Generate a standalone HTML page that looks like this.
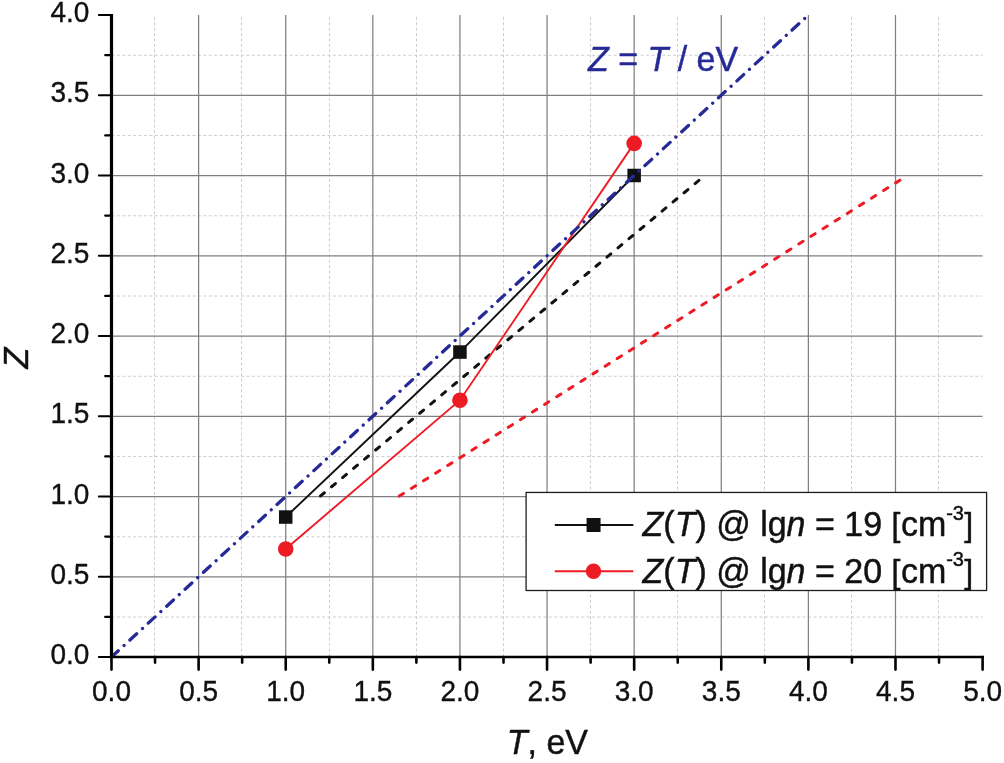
<!DOCTYPE html>
<html lang="en"><head><meta charset="utf-8"><title>Z(T) chart</title>
<style>
html,body{margin:0;padding:0;background:#fff;}
body{width:1004px;height:763px;overflow:hidden;}
svg{display:block;}
text{font-family:"Liberation Sans",Arial,Helvetica,sans-serif;}
.tk{font-size:28px;fill:#111;stroke:#111;stroke-width:0.35px;}
.lg{font-size:34px;fill:#111;stroke:#111;stroke-width:0.45px;}
.ax{font-size:34px;fill:#111;stroke:#111;stroke-width:0.45px;}
.i{font-style:italic;}
</style></head><body>
<svg width="1004" height="763" viewBox="0 0 1004 763">
<rect x="0" y="0" width="1004" height="763" fill="#ffffff"/>
<g stroke="#cecece" stroke-width="1" stroke-dasharray="3 2.4" fill="none">
<line x1="154.5" y1="657" x2="154.5" y2="15"/>
<line x1="241.5" y1="657" x2="241.5" y2="15"/>
<line x1="329.5" y1="657" x2="329.5" y2="15"/>
<line x1="416.5" y1="657" x2="416.5" y2="15"/>
<line x1="503.5" y1="657" x2="503.5" y2="15"/>
<line x1="590.5" y1="657" x2="590.5" y2="15"/>
<line x1="677.5" y1="657" x2="677.5" y2="15"/>
<line x1="764.5" y1="657" x2="764.5" y2="15"/>
<line x1="851.5" y1="657" x2="851.5" y2="15"/>
<line x1="938.5" y1="657" x2="938.5" y2="15"/>
<line x1="111.5" y1="617.02" x2="982.6" y2="617.02"/>
<line x1="111.5" y1="536.77" x2="982.6" y2="536.77"/>
<line x1="111.5" y1="456.52" x2="982.6" y2="456.52"/>
<line x1="111.5" y1="376.27" x2="982.6" y2="376.27"/>
<line x1="111.5" y1="296.02" x2="982.6" y2="296.02"/>
<line x1="111.5" y1="215.78" x2="982.6" y2="215.78"/>
<line x1="111.5" y1="135.53" x2="982.6" y2="135.53"/>
<line x1="111.5" y1="55.27" x2="982.6" y2="55.27"/>
</g>
<g stroke="#808082" stroke-width="1.25" fill="none">
<line x1="198.61" y1="657" x2="198.61" y2="15"/>
<line x1="285.72" y1="657" x2="285.72" y2="15"/>
<line x1="372.83" y1="657" x2="372.83" y2="15"/>
<line x1="459.94" y1="657" x2="459.94" y2="15"/>
<line x1="547.05" y1="657" x2="547.05" y2="15"/>
<line x1="634.16" y1="657" x2="634.16" y2="15"/>
<line x1="721.27" y1="657" x2="721.27" y2="15"/>
<line x1="808.38" y1="657" x2="808.38" y2="15"/>
<line x1="895.49" y1="657" x2="895.49" y2="15"/>
</g>
<g stroke="#808082" stroke-width="1.25" fill="none">
<line x1="111.5" y1="576.75" x2="982.6" y2="576.75"/>
<line x1="111.5" y1="496.5" x2="982.6" y2="496.5"/>
<line x1="111.5" y1="416.25" x2="982.6" y2="416.25"/>
<line x1="111.5" y1="336" x2="982.6" y2="336"/>
<line x1="111.5" y1="255.75" x2="982.6" y2="255.75"/>
<line x1="111.5" y1="175.5" x2="982.6" y2="175.5"/>
<line x1="111.5" y1="95.25" x2="982.6" y2="95.25"/>
</g>
<polyline fill="none" stroke="#111" stroke-width="1.9" points="285.72,517.04 459.94,352.05 634.16,175.5"/>
<rect x="278.97" y="510.29" width="13.5" height="13.5" fill="#111"/>
<rect x="453.19" y="345.3" width="13.5" height="13.5" fill="#111"/>
<rect x="627.41" y="168.75" width="13.5" height="13.5" fill="#111"/>
<line x1="320.55" y1="495.94" x2="698.95" y2="180.36" stroke="#111" stroke-width="3" stroke-dasharray="5 9.345" stroke-linecap="round"/>
<polyline fill="none" stroke="#ed1c24" stroke-width="1.9" points="285.72,548.98 459.94,400.2 634.16,143.4"/>
<circle cx="285.72" cy="548.98" r="7.8" fill="#ed1c24"/>
<circle cx="459.94" cy="400.2" r="7.8" fill="#ed1c24"/>
<circle cx="634.16" cy="143.4" r="7.8" fill="#ed1c24"/>
<line x1="399.27" y1="496.1" x2="899.93" y2="180.2" stroke="#ed1c24" stroke-width="3" stroke-dasharray="5 9.317" stroke-linecap="round"/>
<line x1="111.5" y1="657" x2="808.38" y2="15" stroke="#262a96" stroke-width="3.3" stroke-dasharray="9.2 7.9 0.01 7.9" stroke-linecap="round"/>
<g stroke="#000" fill="none">
<line x1="111.5" y1="14" x2="111.5" y2="658.15" stroke-width="3.2"/>
<line x1="109.9" y1="657" x2="983.9" y2="657" stroke-width="2.3"/>
<g stroke-width="2.2" stroke-linecap="round">
<line x1="98.9" y1="657" x2="111.5" y2="657"/>
<line x1="98.9" y1="576.75" x2="111.5" y2="576.75"/>
<line x1="98.9" y1="496.5" x2="111.5" y2="496.5"/>
<line x1="98.9" y1="416.25" x2="111.5" y2="416.25"/>
<line x1="98.9" y1="336" x2="111.5" y2="336"/>
<line x1="98.9" y1="255.75" x2="111.5" y2="255.75"/>
<line x1="98.9" y1="175.5" x2="111.5" y2="175.5"/>
<line x1="98.9" y1="95.25" x2="111.5" y2="95.25"/>
<line x1="98.9" y1="15" x2="111.5" y2="15"/>
<line x1="105.2" y1="616.88" x2="111.5" y2="616.88"/>
<line x1="105.2" y1="536.62" x2="111.5" y2="536.62"/>
<line x1="105.2" y1="456.38" x2="111.5" y2="456.38"/>
<line x1="105.2" y1="376.12" x2="111.5" y2="376.12"/>
<line x1="105.2" y1="295.88" x2="111.5" y2="295.88"/>
<line x1="105.2" y1="215.62" x2="111.5" y2="215.62"/>
<line x1="105.2" y1="135.38" x2="111.5" y2="135.38"/>
<line x1="105.2" y1="55.12" x2="111.5" y2="55.12"/>
</g>
<g stroke-width="2.6" stroke-linecap="round">
<line x1="111.5" y1="657" x2="111.5" y2="669.6"/>
<line x1="198.61" y1="657" x2="198.61" y2="669.6"/>
<line x1="285.72" y1="657" x2="285.72" y2="669.6"/>
<line x1="372.83" y1="657" x2="372.83" y2="669.6"/>
<line x1="459.94" y1="657" x2="459.94" y2="669.6"/>
<line x1="547.05" y1="657" x2="547.05" y2="669.6"/>
<line x1="634.16" y1="657" x2="634.16" y2="669.6"/>
<line x1="721.27" y1="657" x2="721.27" y2="669.6"/>
<line x1="808.38" y1="657" x2="808.38" y2="669.6"/>
<line x1="895.49" y1="657" x2="895.49" y2="669.6"/>
<line x1="982.6" y1="657" x2="982.6" y2="669.6"/>
<line x1="155.06" y1="657" x2="155.06" y2="662.6"/>
<line x1="242.16" y1="657" x2="242.16" y2="662.6"/>
<line x1="329.27" y1="657" x2="329.27" y2="662.6"/>
<line x1="416.38" y1="657" x2="416.38" y2="662.6"/>
<line x1="503.5" y1="657" x2="503.5" y2="662.6"/>
<line x1="590.61" y1="657" x2="590.61" y2="662.6"/>
<line x1="677.72" y1="657" x2="677.72" y2="662.6"/>
<line x1="764.83" y1="657" x2="764.83" y2="662.6"/>
<line x1="851.93" y1="657" x2="851.93" y2="662.6"/>
<line x1="939.04" y1="657" x2="939.04" y2="662.6"/>
</g></g>
<g class="tk" text-anchor="end">
<text transform="translate(89.3 664.1) scale(1 1.04)">0.0</text>
<text transform="translate(89.3 583.85) scale(1 1.04)">0.5</text>
<text transform="translate(89.3 503.6) scale(1 1.04)">1.0</text>
<text transform="translate(89.3 423.35) scale(1 1.04)">1.5</text>
<text transform="translate(89.3 343.1) scale(1 1.04)">2.0</text>
<text transform="translate(89.3 262.85) scale(1 1.04)">2.5</text>
<text transform="translate(89.3 182.6) scale(1 1.04)">3.0</text>
<text transform="translate(89.3 102.35) scale(1 1.04)">3.5</text>
<text transform="translate(89.3 22.1) scale(1 1.04)">4.0</text>
</g>
<g class="tk" text-anchor="middle">
<text transform="translate(111.5 700.5) scale(1 1.04)">0.0</text>
<text transform="translate(198.61 700.5) scale(1 1.04)">0.5</text>
<text transform="translate(285.72 700.5) scale(1 1.04)">1.0</text>
<text transform="translate(372.83 700.5) scale(1 1.04)">1.5</text>
<text transform="translate(459.94 700.5) scale(1 1.04)">2.0</text>
<text transform="translate(547.05 700.5) scale(1 1.04)">2.5</text>
<text transform="translate(634.16 700.5) scale(1 1.04)">3.0</text>
<text transform="translate(721.27 700.5) scale(1 1.04)">3.5</text>
<text transform="translate(808.38 700.5) scale(1 1.04)">4.0</text>
<text transform="translate(895.49 700.5) scale(1 1.04)">4.5</text>
<text transform="translate(982.6 700.5) scale(1 1.04)">5.0</text>
</g>
<text class="ax" transform="translate(547.4 753.7) scale(1 1.04)" text-anchor="middle"><tspan class="i">T</tspan>, eV</text>
<text class="ax i" transform="translate(27.5 358) rotate(-90) scale(1 1.04)" text-anchor="middle">Z</text>
<text class="ax" transform="translate(588 71.4) scale(1 1.04)" style="fill:#262a96;stroke:#262a96"><tspan class="i">Z</tspan> = <tspan class="i">T</tspan> / eV</text>
<rect x="526.1" y="492.45" width="460.5" height="98.05" fill="#fff" stroke="#1c1c1c" stroke-width="1.3"/>
<line x1="554.8" y1="525" x2="633.3" y2="525" stroke="#111" stroke-width="1.9"/>
<rect x="586.55" y="518" width="14" height="14" fill="#111"/>
<line x1="554.8" y1="571.3" x2="633.3" y2="571.3" stroke="#ed1c24" stroke-width="1.9"/>
<circle cx="593.5" cy="571.3" r="7.75" fill="#ed1c24"/>
<text class="lg" transform="translate(642.6 536.1) scale(1 1.04)"><tspan class="i">Z</tspan>(<tspan class="i">T</tspan>) @ lg<tspan class="i">n</tspan> = 19 <tspan style="font-size:32px">[</tspan><tspan dx="0.5">cm</tspan><tspan dy="-15.8" style="font-size:20px">-3</tspan><tspan dy="15.8" dx="0.3" style="font-size:32px">]</tspan></text>
<text class="lg" transform="translate(642.6 582.7) scale(1 1.04)"><tspan class="i">Z</tspan>(<tspan class="i">T</tspan>) @ lg<tspan class="i">n</tspan> = 20 <tspan style="font-size:32px">[</tspan><tspan dx="0.5">cm</tspan><tspan dy="-15.8" style="font-size:20px">-3</tspan><tspan dy="15.8" dx="0.3" style="font-size:32px">]</tspan></text>
</svg>
</body></html>
